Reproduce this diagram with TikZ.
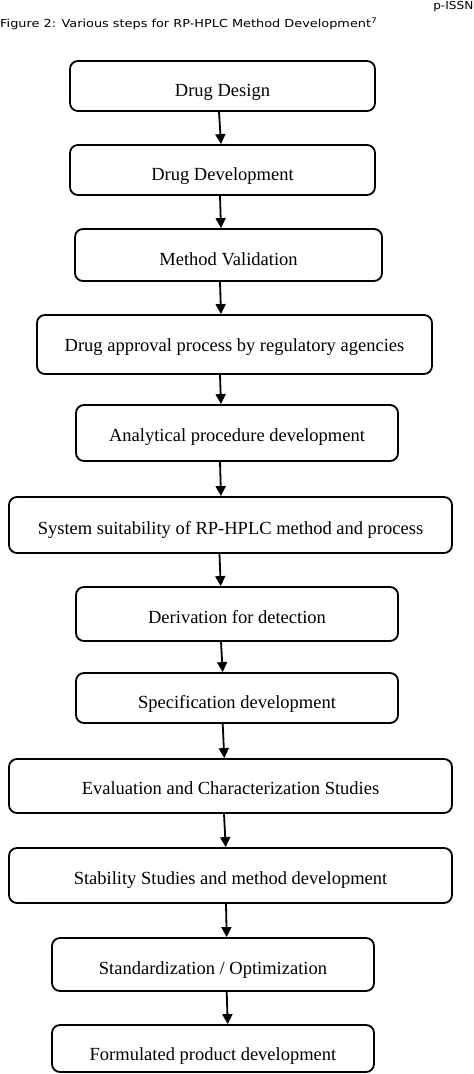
\documentclass[tikz,border=0pt]{standalone}
\usepackage{fontspec}
\setmainfont{Liberation Serif}
\newfontfamily\hdrfont{DejaVu Sans}
\usetikzlibrary{arrows.meta}
\tikzset{
  stepbox/.style={draw=black, line width=1.8pt, rounded corners=8pt, inner sep=0pt,
    font=\fontsize{18.5}{22}\selectfont, text height=#1, text depth=2pt},
  stepbox/.default=20pt,
  arr/.style={line width=1.8pt, -{Triangle[width=10pt,length=10pt]}},
  hdr/.style={font=\hdrfont\fontsize{11}{13}\selectfont, inner sep=0pt}
}
\begin{document}
\begin{tikzpicture}[x=1pt,y=-1pt]
\useasboundingbox (0,0) rectangle (474,1074);
\clip (0,0) rectangle (474,1074);
\node[hdr, anchor=base east] (issn) at (473.5,9.5) {\scalebox{1.1}[1]{p-ISSN}};
\node[hdr, anchor=base west] (title) at (0,27.3) {\scalebox{1.17}[1]{Figure 2: Various steps for RP-HPLC Method Development\textsuperscript{7}}};
\node[stepbox=23.4pt, minimum width=305pt, minimum height=50pt] (b1) at (222.5,86) {Drug Design};
\node[stepbox=23.4pt, minimum width=305pt, minimum height=50pt] (b2) at (222.5,170) {Drug Development};
\node[stepbox=22pt, minimum width=307pt, minimum height=52pt] (b3) at (228.5,255) {Method Validation};
\node[stepbox=16.4pt, minimum width=395pt, minimum height=59pt] (b4) at (234.5,344.5) {Drug approval process by regulatory agencies};
\node[stepbox=19.4pt, minimum width=322pt, minimum height=56pt] (b5) at (237,433) {Analytical procedure development};
\node[stepbox=20pt, minimum width=443pt, minimum height=56pt] (b6) at (230.5,525) {System suitability of RP-HPLC method and process};
\node[stepbox=21.2pt, minimum width=322pt, minimum height=54pt] (b7) at (237,614) {Derivation for detection};
\node[stepbox=22.6pt, minimum width=322pt, minimum height=50pt] (b8) at (237,698) {Specification development};
\node[stepbox=18pt, minimum width=443pt, minimum height=54pt] (b9) at (230.5,786) {Evaluation and Characterization Studies};
\node[stepbox=19pt, minimum width=443pt, minimum height=55pt] (b10) at (230.5,875.5) {Stability Studies and method development};
\node[stepbox=21.6pt, minimum width=322pt, minimum height=53pt] (b11) at (213,964.5) {Standardization / Optimization};
\node[stepbox=25.4pt, minimum width=322pt, minimum height=47pt] (b12) at (213,1048.5) {Formulated product development};
\draw[arr] ([xshift=-3.5pt]b1.south) -- ([xshift=-1.5pt]b2.north);
\draw[arr] ([xshift=-2.5pt]b2.south) -- ([xshift=-7.5pt]b3.north);
\draw[arr] ([xshift=-8.5pt]b3.south) -- ([xshift=-13.5pt]b4.north);
\draw[arr] ([xshift=-14.5pt]b4.south) -- ([xshift=-16pt]b5.north);
\draw[arr] ([xshift=-17pt]b5.south) -- ([xshift=-9.5pt]b6.north);
\draw[arr] ([xshift=-11pt]b6.south) -- ([xshift=-16.3pt]b7.north);
\draw[arr] ([xshift=-16pt]b7.south) -- ([xshift=-14.3pt]b8.north);
\draw[arr] ([xshift=-14.3pt]b8.south) -- ([xshift=-6.2pt]b9.north);
\draw[arr] ([xshift=-6.5pt]b9.south) -- ([xshift=-4.8pt]b10.north);
\draw[arr] ([xshift=-4.5pt]b10.south) -- ([xshift=13.7pt]b11.north);
\draw[arr] ([xshift=13.7pt]b11.south) -- ([xshift=14.7pt]b12.north);
\end{tikzpicture}
\end{document}
